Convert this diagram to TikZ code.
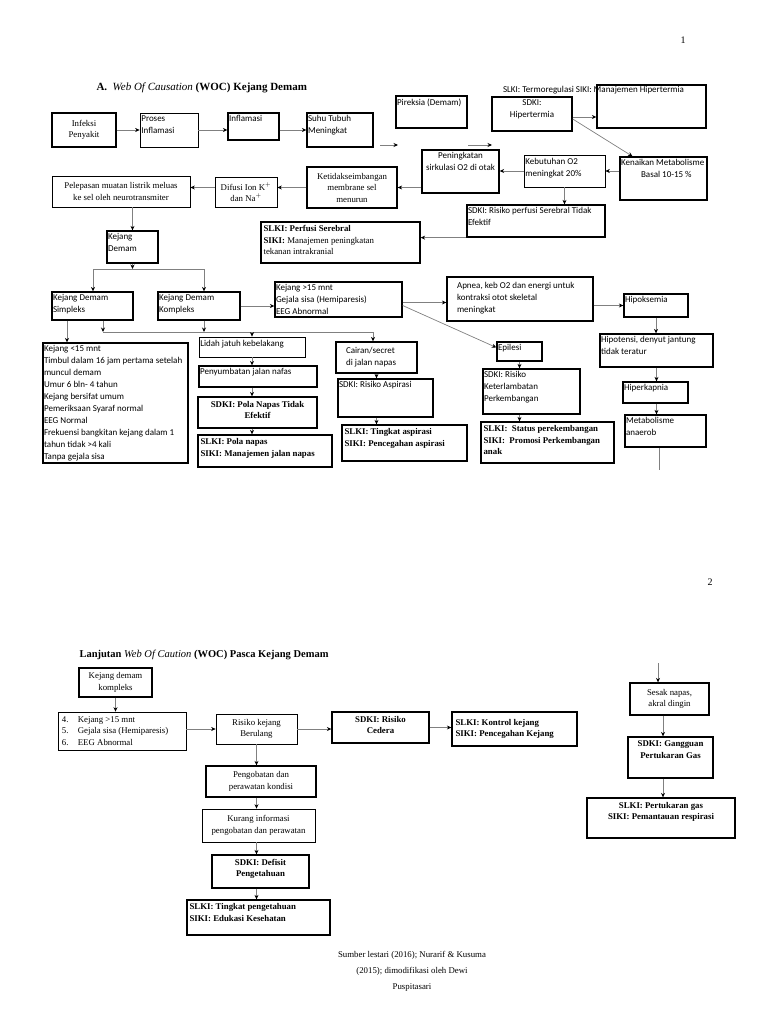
\documentclass[tikz,border=0pt]{standalone}
\usepackage{fontspec}
\setmainfont{Liberation Serif}
\setsansfont{Carlito}
\usetikzlibrary{arrows.meta}

\begin{document}
\begin{tikzpicture}[x=1pt, y=-1pt,
    cell/.style n args={4}{at={(#1/2+#3/2,#2/2+#4/2)}, minimum width={#3-#1}, minimum height={#4-#2}, inner sep=0pt},
    thickbox/.style={draw, line width=1.3pt, fill=white},
    thinbox/.style={draw, line width=0.7pt, fill=white},
    sans/.style={font=\sffamily\fontsize{9}{12}\selectfont},
    serif/.style={font=\rmfamily\fontsize{8.8}{11.5}\selectfont},
    serifb/.style={font=\rmfamily\bfseries\fontsize{8.8}{11.5}\selectfont},
    tl/.style={label={[sans, anchor=north west, align=left, inner sep=1.5pt, yshift=-1.5pt]north west:{#1}}},
    tli/.style={label={[sans, anchor=north west, align=left, inner sep=1.5pt, xshift=9pt, yshift=-4pt]north west:{#1}}},
    tc/.style={label={[sans, anchor=north, align=center, inner sep=1.5pt, yshift=-1.5pt]north:{#1}}},
    sl/.style={label={[serifb, anchor=north west, align=left, inner sep=3pt, yshift=-1pt]north west:{#1}}},
    tcb/.style={label={[serifb, anchor=north, align=center, inner sep=3pt, yshift=-1.5pt]north:{#1}}},
    ml/.style={label={[serif, anchor=west, align=left, inner sep=4pt]west:{#1}}},
    mlb/.style={label={[serifb, anchor=west, align=left, inner sep=4pt]west:{#1}}},
    arrow/.style={-{Stealth[length=4.5pt, width=4pt, color=black]}, draw=black!50, line width=0.7pt},
    link/.style={draw=black!50, line width=0.7pt}
  ]
  \useasboundingbox (0,0) rectangle (768,1024);

  % Halaman 1
  \node[font=\rmfamily\fontsize{10}{12}\selectfont] (page1) at (683,40) {1};
  \node[anchor=west, font=\rmfamily\bfseries\fontsize{11}{13}\selectfont] (title1) at (93,88) {A.\enspace{\mdseries\itshape Web Of Causation} (WOC) Kejang Demam};

  \node[thickbox, cell={52}{113}{116}{147}, serif, align=center] (infeksi) {Infeksi\\Penyakit};
  \node[thinbox, cell={140}{113}{198}{147}, tl={Proses\\Inflamasi}] (proses) {};
  \node[thickbox, cell={228}{113}{279}{140}, tl={Inflamasi}] (inflamasi) {};
  \node[thickbox, cell={307}{113}{373}{147}, tl={Suhu Tubuh\\Meningkat}] (suhu) {};
  \node[thickbox, cell={396}{96}{467}{128}, tl={Pireksia (Demam)}] (pireksia) {};
  \node[thickbox, cell={492}{97}{572}{131}, tc={SDKI:\\Hipertermia}] (hipertermia) {};
  \node[thickbox, cell={597}{85}{706}{128}] (termo) {};
  \node[sans] (termotext) at (593.5,90) {SLKI: Termoregulasi SIKI: Manajemen Hipertermia};
  \node[thickbox, cell={620}{157}{707}{200}, tl={Kenaikan Metabolisme\\\hspace*{20pt}Basal 10-15 \%}] (kenaikan) {};
  \node[thinbox, cell={524}{155}{605}{187}, tl={Kebutuhan O2\\meningkat 20\%}] (kebutuhan) {};
  \node[thickbox, cell={422}{150}{499}{193}, tc={Peningkatan\\sirkulasi O2 di otak}] (peningkatan) {};
  \node[thickbox, cell={307}{167}{397}{208}, serif, align=center] (ketidak) {Ketidakseimbangan\\membrane sel\\menurun};
  \node[thinbox, cell={215}{177}{277}{207}, serif, align=center] (difusi) {Difusi Ion K$^{+}$\\dan Na$^{+}$};
  \node[thinbox, cell={52}{176}{190}{207}, serif, align=center] (pelepasan) {Pelepasan muatan listrik meluas\\ke sel oleh neurotransmiter};
  \node[thickbox, cell={467}{205}{605}{237}, tl={SDKI: Risiko perfusi Serebral Tidak\\Efektif}] (perfusi) {};
  \node[thickbox, cell={261}{222}{420}{263}, sl={SLKI: Perfusi Serebral\\SIKI: {\mdseries Manajemen peningkatan}\\{\mdseries tekanan intrakranial}}] (slkiperfusi) {};
  \node[thickbox, cell={107}{231}{158}{263}, tl={Kejang\\Demam}] (kejang) {};
  \node[thickbox, cell={52}{292}{133}{320}, tl={Kejang Demam\\Simpleks}] (simpleks) {};
  \node[thickbox, cell={158}{292}{240}{320}, tl={Kejang Demam\\Kompleks}] (kompleks) {};
  \node[thickbox, cell={275}{282}{402}{317}, tl={Kejang >15 mnt\\Gejala sisa (Hemiparesis)\\EEG Abnormal}] (gejala) {};
  \node[thickbox, cell={447}{277}{593}{321}, tli={Apnea, keb O2 dan energi untuk\\kontraksi otot skeletal\\meningkat}] (apnea) {};
  \node[thickbox, cell={624}{294}{688}{317}, tl={Hipoksemia}] (hipoksemia) {};
  \node[thickbox, cell={600}{334}{713}{367}, tl={Hipotensi, denyut jantung\\tidak teratur}] (hipotensi) {};
  \node[thickbox, cell={623}{382}{688}{403}, tl={Hiperkapnia}] (hiperkapnia) {};
  \node[thickbox, cell={625}{415}{706}{447}, tl={Metabolisme\\anaerob}] (anaerob) {};
  \node[thickbox, cell={497}{342}{542}{361}, tl={Epilesi}] (epilesi) {};
  \node[thickbox, cell={483}{369}{580}{414}, tl={SDKI: Risiko\\Keterlambatan\\Perkembangan}] (keterlambatan) {};
  \node[thickbox, cell={481}{422}{614}{463}, sl={SLKI:\ \ Status perekembangan\\SIKI:\ \ Promosi Perkembangan\\anak}] (slkistatus) {};
  \node[thickbox, cell={43}{343}{188}{463}, tl={Kejang <15 mnt\\Timbul dalam 16 jam pertama setelah\\muncul demam\\Umur 6 bln- 4 tahun\\Kejang bersifat umum\\Pemeriksaan Syaraf normal\\EEG Normal\\Frekuensi bangkitan kejang dalam 1\\tahun tidak >4 kali\\Tanpa gejala sisa}] (ciri) {};
  \node[thinbox, cell={199}{337}{305}{357}, tl={Lidah jatuh kebelakang}] (lidah) {};
  \node[thickbox, cell={199}{366}{317}{387}, tl={Penyumbatan jalan nafas}] (sumbatan) {};
  \node[thickbox, cell={198}{397}{317}{428}, tcb={SDKI: Pola Napas Tidak\\Efektif}] (polanapas) {};
  \node[thickbox, cell={198}{435}{332}{467}, sl={SLKI: Pola napas\\SIKI: Manajemen jalan napas}] (slkipola) {};
  \node[thickbox, cell={336}{342}{417}{373}, tli={Cairan/secret\\di jalan napas}] (cairan) {};
  \node[thickbox, cell={338}{379}{433}{417}, tl={SDKI: Risiko Aspirasi}] (aspirasi) {};
  \node[thickbox, cell={342}{425}{467}{461}, sl={SLKI: Tingkat aspirasi\\SIKI: Pencegahan aspirasi}] (slkiaspirasi) {};

  % Titik bantu halaman 1
  \coordinate (gap1a) at (380,145);
  \coordinate (gap1b) at (398,145);
  \coordinate (gap2a) at (468,145);
  \coordinate (gap2b) at (492,145);
  \coordinate (forkl) at (93,269);
  \coordinate (forkm) at (132.5,269);
  \coordinate (forkr) at (204,269);
  \coordinate (railw) at (103,332);
  \coordinate (raile) at (373,332);
  \coordinate (cirikol) at (67,0);
  \coordinate (kompkol) at (204,0);
  \coordinate (anaerobout) at (659,470);

  % Panah halaman 1
  \draw[arrow] (infeksi) -- (proses);
  \draw[arrow] (proses.east) -- (proses.east -| inflamasi.west);
  \draw[arrow] (inflamasi.east |- suhu) -- (suhu.west);
  \draw[arrow] (gap1a) -- (gap1b);
  \draw[arrow] (gap2a) -- (gap2b);
  \draw[arrow] ([yshift=-3pt]hipertermia.east) -- ([yshift=-3pt]hipertermia.east -| termo.west);
  \draw[arrow] ([yshift=-5pt]hipertermia.east) -- ([xshift=-31pt]kenaikan.north);
  \draw[arrow] (kenaikan.west |- kebutuhan) -- (kebutuhan.east);
  \draw[arrow] (kebutuhan.west) -- (kebutuhan.west -| peningkatan.east);
  \draw[arrow] (peningkatan.west |- ketidak) -- (ketidak.east);
  \draw[arrow] (ketidak.west) -- (ketidak.west -| difusi.east);
  \draw[arrow] (ketidak.west -| difusi.west) -- (ketidak.west -| pelepasan.east);
  \draw[arrow] (kejang.north |- pelepasan.south) -- (kejang.north);
  \draw[arrow] (kebutuhan.south) -- (kebutuhan.south |- perfusi.north);
  \draw[arrow] (perfusi.south west) -- (perfusi.south west -| slkiperfusi.east);
  \draw[arrow] (kejang.south) -- (forkm);
  \draw[link] (forkl) -- (forkr);
  \draw[arrow] (forkl) -- (forkl |- simpleks.north);
  \draw[arrow] (forkr) -- (forkr |- kompleks.north);
  \draw[arrow] (cirikol |- simpleks.south) -- (cirikol |- ciri.north);
  \draw[arrow] (railw |- simpleks.south) -- (railw);
  \draw[arrow] (kompkol |- kompleks.south) -- (kompkol |- railw);
  \draw[link] (railw) -- (raile);
  \draw[arrow] (lidah.north |- railw) -- (lidah.north);
  \draw[arrow] (raile) -- (raile |- cairan.north);
  \draw[arrow] (lidah.south) -- (lidah.south |- sumbatan.north);
  \draw[arrow] (lidah.south |- sumbatan.south) -- (lidah.south |- polanapas.north);
  \draw[arrow] (lidah.south |- polanapas.south) -- (lidah.south |- slkipola.north);
  \draw[arrow] (cairan.south) -- (cairan.south |- aspirasi.north);
  \draw[arrow] (cairan.south |- aspirasi.south) -- (cairan.south |- slkiaspirasi.north);
  \draw[arrow] (kompleks.east) -- (kompleks.east -| gejala.west);
  \draw[arrow] ([yshift=-3pt]gejala.east) -- ([yshift=-3pt]gejala.east -| apnea.west);
  \draw[arrow] ([yshift=-6pt]gejala.east) -- ([yshift=4pt]epilesi.west);
  \draw[arrow] (apnea.east |- hipoksemia) -- (hipoksemia.west);
  \draw[arrow] (hipoksemia.south) -- (hipoksemia.south |- hipotensi.north);
  \draw[arrow] (hipotensi.south) -- (hipotensi.south |- hiperkapnia.north);
  \draw[arrow] (hipotensi.south |- hiperkapnia.south) -- (hipotensi.south |- anaerob.north);
  \draw[link] (anaerobout |- anaerob.south) -- (anaerobout);
  \draw[arrow] (epilesi.south) -- (epilesi.south |- keterlambatan.north);
  \draw[arrow] (epilesi.south |- keterlambatan.south) -- (epilesi.south |- slkistatus.north);

  % Halaman 2
  \node[font=\rmfamily\fontsize{10}{12}\selectfont] (page2) at (710,582) {2};
  \node[anchor=west, font=\rmfamily\bfseries\fontsize{10.5}{13}\selectfont] (title2) at (76,655) {Lanjutan {\mdseries\itshape Web Of Caution} (WOC) Pasca Kejang Demam};

  \node[thickbox, cell={79}{668}{152}{697}, serif, align=center] (kompleks2) {Kejang demam\\kompleks};
  \node[thinbox, cell={58}{712}{186}{750}, ml={\makebox[16pt][l]{4.}Kejang >15 mnt\\\makebox[16pt][l]{5.}Gejala sisa (Hemiparesis)\\\makebox[16pt][l]{6.}EEG Abnormal}] (list2) {};
  \node[thinbox, cell={216}{714}{297}{744}, serif, align=center] (risiko) {Risiko kejang\\Berulang};
  \node[thickbox, cell={332}{712}{429}{743}, tcb={SDKI: Risiko\\Cedera}] (cedera) {};
  \node[thickbox, cell={452}{712}{577}{746}, mlb={SLKI: Kontrol kejang\\SIKI: Pencegahan Kejang}] (kontrol) {};
  \node[thickbox, cell={206}{766}{316}{797}, serif, align=center] (pengobatan) {Pengobatan dan\\perawatan kondisi};
  \node[thinbox, cell={202}{809}{315}{842}, serif, align=center] (kurang) {Kurang informasi\\pengobatan dan perawatan};
  \node[thickbox, cell={212}{855}{309}{888}, tcb={SDKI: Defisit\\Pengetahuan}] (defisit) {};
  \node[thickbox, cell={187}{900}{330}{935}, sl={SLKI: Tingkat pengetahuan\\SIKI: Edukasi Kesehatan}] (slkitingkat) {};
  \node[thickbox, cell={630}{683}{709}{715}, serif, align=center] (sesak) {Sesak napas,\\akral dingin};
  \node[thickbox, cell={628}{737}{713}{778}, tcb={SDKI: Gangguan\\Pertukaran Gas}] (gangguan) {};
  \node[thickbox, cell={587}{798}{735}{838}, tcb={SLKI: Pertukaran gas\\SIKI: Pemantauan respirasi}] (slkigas) {};
  \node[font=\rmfamily\fontsize{8.8}{16}\selectfont, align=center] (sumber) at (412,971) {Sumber lestari (2016); Nurarif \& Kusuma\\(2015); dimodifikasi oleh Dewi\\Puspitasari};

  % Titik bantu halaman 2
  \coordinate (sesakin) at (658,663);
  \coordinate (gaskol) at (663,0);

  % Panah halaman 2
  \draw[arrow] (kompleks2.south) -- (kompleks2.south |- list2.north);
  \draw[arrow] (list2.east |- risiko) -- (risiko.west);
  \draw[arrow] (risiko.east) -- (risiko.east -| cedera.west);
  \draw[arrow] (cedera.east) -- (cedera.east -| kontrol.west);
  \draw[arrow] (risiko.south) -- (risiko.south |- pengobatan.north);
  \draw[arrow] (risiko.south |- pengobatan.south) -- (risiko.south |- kurang.north);
  \draw[arrow] (risiko.south |- kurang.south) -- (risiko.south |- defisit.north);
  \draw[arrow] (risiko.south |- defisit.south) -- (risiko.south |- slkitingkat.north);
  \draw[arrow] (sesakin) -- (sesakin |- sesak.north);
  \draw[arrow] (gaskol |- sesak.south) -- (gaskol |- gangguan.north);
  \draw[arrow] (gaskol |- gangguan.south) -- (gaskol |- slkigas.north);
\end{tikzpicture}
\end{document}
